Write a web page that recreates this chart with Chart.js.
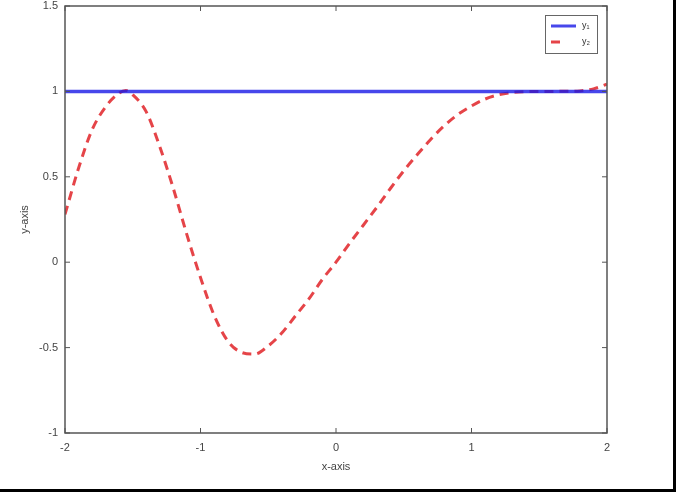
<!DOCTYPE html>
<html>
<head>
<meta charset="utf-8">
<script src="https://cdn.jsdelivr.net/npm/chart.js@4/dist/chart.umd.min.js"></script>
<style>
  html, body { margin: 0; padding: 0; background: #fff; }
  #wrap {
    width: 673px; height: 489px;
    border-right: 3px solid #000; border-bottom: 3px solid #000;
  }
  canvas { display: block; }
</style>
</head>
<body>
<div id="wrap"><canvas id="chart" width="673" height="489"></canvas></div>
<script>
// data
const seriesLabels = ["y\u2081", "y\u2082"];
const y1X = [-2, 2];
const y1Values = [1, 1];
const y2X = [-2.0, -1.9, -1.8, -1.7, -1.6, -1.55, -1.5, -1.4, -1.3, -1.2, -1.1,
             -1.0, -0.9, -0.8, -0.7, -0.6, -0.5, -0.4, -0.3, -0.2, -0.1,
             0.0, 0.1, 0.2, 0.3, 0.4, 0.5, 0.6, 0.7, 0.8, 0.9,
             1.0, 1.1, 1.2, 1.3, 1.4, 1.5, 1.6, 1.7, 1.8, 1.9, 2.0];
const y2Values = [0.28, 0.55, 0.775, 0.91, 0.99, 1.005, 0.98, 0.88, 0.675, 0.43, 0.16,
                  -0.09, -0.31, -0.46, -0.527, -0.538, -0.49, -0.415, -0.315, -0.215, -0.10,
                  0.0, 0.11, 0.215, 0.32, 0.43, 0.535, 0.63, 0.72, 0.80, 0.865,
                  0.915, 0.955, 0.98, 0.993, 0.998, 1.0, 1.0, 1.001, 1.003, 1.015, 1.042];
const xTicks = [-2, -1, 0, 1, 2];
const xTickLabels = ["-2", "-1", "0", "1", "2"];
const yTicks = [-1, -0.5, 0, 0.5, 1, 1.5];
const yTickLabels = ["-1", "-0.5", "0", "0.5", "1", "1.5"];

const FONT = "'Liberation Sans', Arial, sans-serif";
const TEXT = "#444";
const FRAME = "#555";

const toPoints = (xs, ys) => xs.map((x, i) => ({ x: x, y: ys[i] }));

// box around the plot with inward ticks on all four sides, plus the inset legend
const framePlugin = {
    id: "frame",
    afterDatasetsDraw(chart) {
        const { ctx, chartArea: a, scales } = chart;
        const len = 5;
        ctx.save();
        ctx.strokeStyle = FRAME;
        ctx.lineWidth = 1.5;
        ctx.strokeRect(a.left, a.top, a.right - a.left, a.bottom - a.top);
        ctx.lineWidth = 1;
        ctx.beginPath();
        xTicks.forEach((v) => {
            const px = scales.x.getPixelForValue(v);
            ctx.moveTo(px, a.bottom); ctx.lineTo(px, a.bottom - len);
            ctx.moveTo(px, a.top); ctx.lineTo(px, a.top + len);
        });
        yTicks.forEach((v) => {
            const py = scales.y.getPixelForValue(v);
            ctx.moveTo(a.left, py); ctx.lineTo(a.left + len, py);
            ctx.moveTo(a.right, py); ctx.lineTo(a.right - len, py);
        });
        ctx.stroke();

        // legend
        const w = 52, h = 38;
        const lx = a.right - 10 - w, ly = a.top + 9;
        ctx.fillStyle = "#fff";
        ctx.fillRect(lx, ly, w, h);
        ctx.strokeStyle = "#666";
        ctx.lineWidth = 1;
        ctx.strokeRect(lx + 0.5, ly + 0.5, w, h);
        chart.data.datasets.forEach((ds, i) => {
            const yy = ly + 11 + i * 16;
            ctx.beginPath();
            ctx.strokeStyle = ds.borderColor;
            ctx.lineWidth = 3;
            ctx.setLineDash(ds.borderDash || []);
            ctx.moveTo(lx + 6, yy);
            ctx.lineTo(lx + (ds.borderDash ? 20 : 31), yy);
            ctx.stroke();
            ctx.setLineDash([]);
            ctx.fillStyle = "#333";
            ctx.font = "9px " + FONT;
            ctx.textBaseline = "middle";
            ctx.fillText(ds.label, lx + 37, yy);
        });
        ctx.restore();
    },
};

new Chart(document.getElementById("chart"), {
    type: "line",
    data: {
        datasets: [
            {
                label: seriesLabels[0],
                data: toPoints(y1X, y1Values),
                borderColor: "rgba(25, 25, 230, 0.8)",
                borderWidth: 3.5,
                pointRadius: 0,
            },
            {
                label: seriesLabels[1],
                data: toPoints(y2X, y2Values),
                borderColor: "rgba(225, 35, 40, 0.85)",
                borderWidth: 3,
                borderDash: [9, 6],
                pointRadius: 0,
                tension: 0.4,
                cubicInterpolationMode: "monotone",
            },
        ],
    },
    options: {
        responsive: false,
        animation: false,
        layout: { padding: { top: 6, right: 66 } },
        plugins: {
            legend: { display: false },
            tooltip: { enabled: false },
        },
        scales: {
            x: {
                type: "linear",
                min: -2,
                max: 2,
                afterBuildTicks: (scale) => { scale.ticks = xTicks.map((v) => ({ value: v })); },
                afterFit: (scale) => { scale.height = 56; },
                grid: { display: false, drawTicks: false },
                border: { display: false },
                ticks: {
                    color: TEXT,
                    font: { family: FONT, size: 11 },
                    padding: 8,
                    callback: (v, i) => xTickLabels[i],
                },
                title: {
                    display: true,
                    text: "x-axis",
                    color: TEXT,
                    font: { family: FONT, size: 11 },
                    padding: { top: 0, bottom: 15 },
                },
            },
            y: {
                type: "linear",
                min: -1,
                max: 1.5,
                afterBuildTicks: (scale) => { scale.ticks = yTicks.map((v) => ({ value: v })); },
                afterFit: (scale) => {
                    scale.width = 65;
                    scale.paddingTop = 0;
                    scale.paddingBottom = 0;
                },
                grid: { display: false, drawTicks: false },
                border: { display: false },
                ticks: {
                    color: TEXT,
                    font: { family: FONT, size: 11 },
                    padding: 7,
                    callback: (v, i) => yTickLabels[i],
                },
                title: {
                    display: true,
                    text: "y-axis",
                    color: TEXT,
                    font: { family: FONT, size: 11 },
                    padding: { top: 18, bottom: 0 },
                },
            },
        },
    },
    plugins: [framePlugin],
});
</script>
</body>
</html>
